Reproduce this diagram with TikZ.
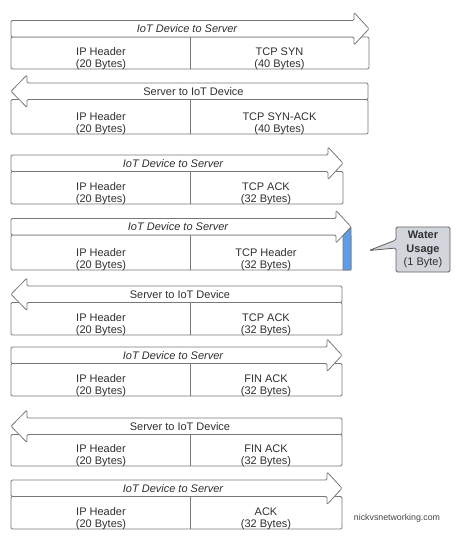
\documentclass[tikz,border=0pt]{standalone}
\usepackage{fontspec}
\setmainfont{Liberation Sans}
\definecolor{lineg}{HTML}{787878}
\definecolor{txt}{HTML}{303030}
\definecolor{bluebar}{HTML}{5E9EE8}
\definecolor{callfill}{HTML}{D2D6DC}
\tikzset{
  boxline/.style={draw=lineg,line width=0.8pt,rounded corners=1.2pt},
  celltext/.style={text=txt,font=\fontsize{11}{11.6}\selectfont,align=center,inner sep=0pt},
  bandtext/.style={text=txt,font=\fontsize{11}{12}\selectfont,inner sep=0pt},
}
% id, t, R, bb, bandx, bandlabel, rightlabel, rightx
\newcommand\pktR[8]{%
  \draw[boxline,fill=white] (11,#2+16.5) rectangle (#3,#4);
  \draw[boxline] (190,#2+16.5) -- (190,#4);
  \draw[boxline,fill=white] (11,#2) -- (#3-15,#2) -- (#3-15,#2-8) -- (#3,#2+8.25) -- (#3-15,#2+24.5) -- (#3-15,#2+16.5) -- (11,#2+16.5) -- cycle;
  \node[bandtext] (#1band) at (#5,#2+8.25) {#6};
  \node[celltext] (#1ip) at (101,#4-10.2) {IP Header\\(20 Bytes)};
  \node[celltext] (#1tcp) at (#8,#4-10.2) {#7};
}
\newcommand\pktL[8]{%
  \draw[boxline,fill=white] (11,#2+16.5) rectangle (#3,#4);
  \draw[boxline] (190,#2+16.5) -- (190,#4);
  \draw[boxline,fill=white] (#3,#2) -- (27,#2) -- (27,#2-8) -- (11,#2+8.25) -- (27,#2+24.5) -- (27,#2+16.5) -- (#3,#2+16.5) -- cycle;
  \node[bandtext] (#1band) at (#5,#2+8.25) {#6};
  \node[celltext] (#1ip) at (101,#4-10.2) {IP Header\\(20 Bytes)};
  \node[celltext] (#1tcp) at (#8,#4-10.2) {#7};
}
\begin{document}
\begin{tikzpicture}[x=1pt,y=-1pt]
\useasboundingbox[fill=white] (0,0) rectangle (474,544);
\pktR{r1}{20.5}{369}{69}{187}{\itshape IoT Device to Server}{TCP SYN\\(40 Bytes)}{279.5}
\pktL{r2}{83}{368}{134}{193.5}{Server to IoT Device}{TCP SYN-ACK\\(40 Bytes)}{279.5}
\pktR{r3}{155}{343}{204}{173}{\itshape IoT Device to Server}{TCP ACK\\(32 Bytes)}{266}
\pktR{r4}{218.5}{351}{270}{178}{\itshape IoT Device to Server}{TCP Header\\(32 Bytes)}{266}
\pktL{r5}{286}{342}{335}{180}{Server to IoT Device}{TCP ACK\\(32 Bytes)}{266}
\pktR{r6}{347}{342}{396}{173}{\itshape IoT Device to Server}{FIN ACK\\(32 Bytes)}{266}
\pktL{r7}{418}{342}{466}{180}{Server to IoT Device}{FIN ACK\\(32 Bytes)}{266}
\pktR{r8}{480}{342}{529}{173}{\itshape IoT Device to Server}{ACK\\(32 Bytes)}{266}
% blue water-usage byte
\draw[draw=lineg,line width=0.6pt,fill=bluebar] (343,270) -- (343,236) -- (351,227.3) -- (351,270) -- cycle;
% callout
\draw[draw=lineg!80!black,line width=0.8pt,fill=callfill,rounded corners=1.5pt]
  (396,240) -- (369,250.5) -- (396,248) -- (396,272) -- (450,272) -- (450,227) -- (396,227) -- cycle;
\node[text=txt,align=center,inner sep=0pt,font=\fontsize{11}{13.5}\selectfont] (water) at (423,249.5)
  {\textbf{Water}\\\textbf{Usage}\\(1 Byte)};
\node[text=txt!90,inner sep=0pt,font=\fontsize{8.8}{10}\selectfont] (site) at (397,518) {nickvsnetworking.com};
\end{tikzpicture}
\end{document}
